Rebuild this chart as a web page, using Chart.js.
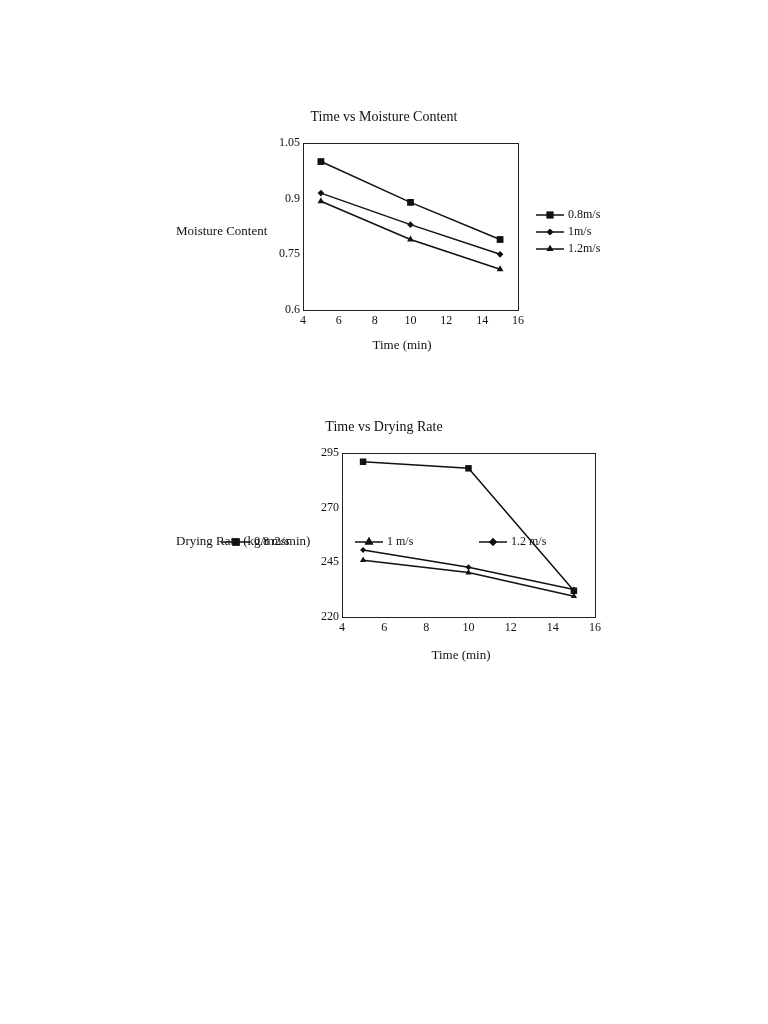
<!DOCTYPE html>
<html>
<head>
<meta charset="utf-8">
<title>Time vs Moisture Content / Drying Rate</title>
<script src="https://cdn.jsdelivr.net/npm/chart.js@4.4.0/dist/chart.umd.min.js"></script>
<style>
  html, body { margin: 0; padding: 0; background: #fff; }
  .box { position: absolute; left: 0; width: 768px; height: 290px; }
</style>
</head>
<body>
<div class="box" style="top:90px"><canvas id="moistureChart" width="768" height="290"></canvas></div>
<div class="box" style="top:400px"><canvas id="rateChart" width="768" height="290"></canvas></div>
<script>
// Data
const timeMin = [5, 10, 15];

const moisture08 = [1.0, 0.89, 0.79];
const moisture1 = [0.915, 0.83, 0.75];
const moisture12 = [0.893, 0.79, 0.71];

const rate08 = [291, 288, 232];
const rate1 = [246, 240.3, 229.5];   // triangles
const rate12 = [250.6, 242.8, 232.6]; // diamonds

const moistureTickVals = [0.6, 0.75, 0.9, 1.05];
const rateTickVals = [220, 245, 270, 295];
const timeTickVals = [4, 6, 8, 10, 12, 14, 16];

const serif = "'Liberation Serif', 'DejaVu Serif', serif";
const ink = '#111';

const toPoints = (ys) => timeMin.map((x, i) => ({ x: x, y: ys[i] }));

const series = (label, ys, style, radius) => ({
  label: label,
  data: toPoints(ys),
  borderColor: ink,
  backgroundColor: ink,
  borderWidth: 1.5,
  pointStyle: style,
  pointRadius: radius,
  pointBorderWidth: 0,
  pointBackgroundColor: ink,
  tension: 0,
  fill: false,
});

// draws a legend marker the same way the chart draws its points
const drawMarker = (ctx, style, r, x, y) => {
  ctx.fillStyle = ink;
  if (Chart.helpers && Chart.helpers.drawPoint) {
    Chart.helpers.drawPoint(ctx, { pointStyle: style, radius: r, borderWidth: 0 }, x, y);
    ctx.fill();
    return;
  }
  ctx.beginPath();
  if (style === 'rect') ctx.rect(x - r * 0.707, y - r * 0.707, r * 1.414, r * 1.414);
  else if (style === 'rectRot') { ctx.moveTo(x - r, y); ctx.lineTo(x, y - r); ctx.lineTo(x + r, y); ctx.lineTo(x, y + r); ctx.closePath(); }
  else { ctx.moveTo(x - r, y + r * 0.6); ctx.lineTo(x, y - r); ctx.lineTo(x + r, y + r * 0.6); ctx.closePath(); }
  ctx.fill();
};

// titles, horizontal y title, box and hand placed legend
const decoPlugin = {
  id: 'deco',
  afterDraw(chart, args, opts) {
    const { ctx, chartArea } = chart;
    ctx.save();
    ctx.strokeStyle = '#222';
    ctx.lineWidth = 1;
    ctx.strokeRect(Math.round(chartArea.left) + 0.5, Math.round(chartArea.top) + 0.5,
      Math.round(chartArea.right - chartArea.left), Math.round(chartArea.bottom - chartArea.top));

    ctx.fillStyle = ink;
    ctx.textBaseline = 'middle';
    ctx.font = '14px ' + serif;
    ctx.textAlign = 'center';
    ctx.fillText(opts.title, opts.titlePos[0], opts.titlePos[1]);

    ctx.font = '13px ' + serif;
    ctx.fillText(opts.xTitle, opts.xTitlePos[0], opts.xTitlePos[1]);
    ctx.textAlign = 'left';
    ctx.fillText(opts.yTitle, opts.yTitlePos[0], opts.yTitlePos[1]);

    opts.legend.forEach((item) => {
      const ds = chart.data.datasets[item.index];
      ctx.strokeStyle = ink;
      ctx.lineWidth = 1.5;
      ctx.beginPath();
      ctx.moveTo(item.x - 14, item.y);
      ctx.lineTo(item.x + 14, item.y);
      ctx.stroke();
      drawMarker(ctx, ds.pointStyle, item.r, item.x, item.y);
      ctx.fillStyle = ink;
      ctx.font = '12px ' + serif;
      ctx.fillText(ds.label, item.x + 18, item.y);
    });
    ctx.restore();
  },
};

const fixedTicks = (vals) => (scale) => { scale.ticks = vals.map((v) => ({ value: v })); };

const makeScales = (yVals) => ({
  x: {
    type: 'linear',
    min: timeTickVals[0],
    max: timeTickVals[timeTickVals.length - 1],
    grid: { display: false, drawTicks: false },
    border: { display: false },
    afterBuildTicks: fixedTicks(timeTickVals),
    ticks: { padding: 4, color: ink, font: { family: serif, size: 12 }, callback: (v) => String(v) },
    afterFit: (scale) => { scale.height = 20; },
  },
  y: {
    type: 'linear',
    min: yVals[0],
    max: yVals[yVals.length - 1],
    grid: { display: false, drawTicks: false },
    border: { display: false },
    afterBuildTicks: fixedTicks(yVals),
    ticks: { padding: 3, color: ink, font: { family: serif, size: 12 }, callback: (v) => String(+v.toFixed(2)) },
    afterFit: (scale) => { scale.width = 40; },
  },
});

new Chart(document.getElementById('moistureChart'), {
  type: 'line',
  data: {
    datasets: [
      series('0.8m/s', moisture08, 'rect', 4.8),
      series('1m/s', moisture1, 'rectRot', 3.3),
      series('1.2m/s', moisture12, 'triangle', 3.9),
    ],
  },
  options: {
    responsive: false,
    animation: false,
    devicePixelRatio: 1,
    layout: { padding: { left: 263, right: 250, top: 53, bottom: 50 } },
    scales: makeScales(moistureTickVals),
    plugins: {
      legend: { display: false },
      tooltip: { enabled: false },
      deco: {
        title: 'Time vs Moisture Content',
        titlePos: [384, 27],
        xTitle: 'Time (min)',
        xTitlePos: [402, 256],
        yTitle: 'Moisture Content',
        yTitlePos: [176, 142],
        legend: [
          { index: 0, x: 550, y: 125, r: 4.8 },
          { index: 1, x: 550, y: 142, r: 3.3 },
          { index: 2, x: 550, y: 159, r: 4 },
        ],
      },
    },
  },
  plugins: [decoPlugin],
});

new Chart(document.getElementById('rateChart'), {
  type: 'line',
  data: {
    datasets: [
      series('0.8 m/s', rate08, 'rect', 4.6),
      series('1 m/s', rate1, 'triangle', 3.6),
      series('1.2 m/s', rate12, 'rectRot', 3.0),
    ],
  },
  options: {
    responsive: false,
    animation: false,
    devicePixelRatio: 1,
    layout: { padding: { left: 302, right: 173, top: 53, bottom: 53 } },
    scales: makeScales(rateTickVals),
    plugins: {
      legend: { display: false },
      tooltip: { enabled: false },
      deco: {
        title: 'Time vs Drying Rate',
        titlePos: [384, 27],
        xTitle: 'Time (min)',
        xTitlePos: [461, 256],
        yTitle: 'Drying Rate (kg/m2smin)',
        yTitlePos: [176, 142],
        legend: [
          { index: 0, x: 236, y: 142, r: 5.2 },
          { index: 1, x: 369, y: 142, r: 5 },
          { index: 2, x: 493, y: 142, r: 4 },
        ],
      },
    },
  },
  plugins: [decoPlugin],
});
</script>
</body>
</html>
